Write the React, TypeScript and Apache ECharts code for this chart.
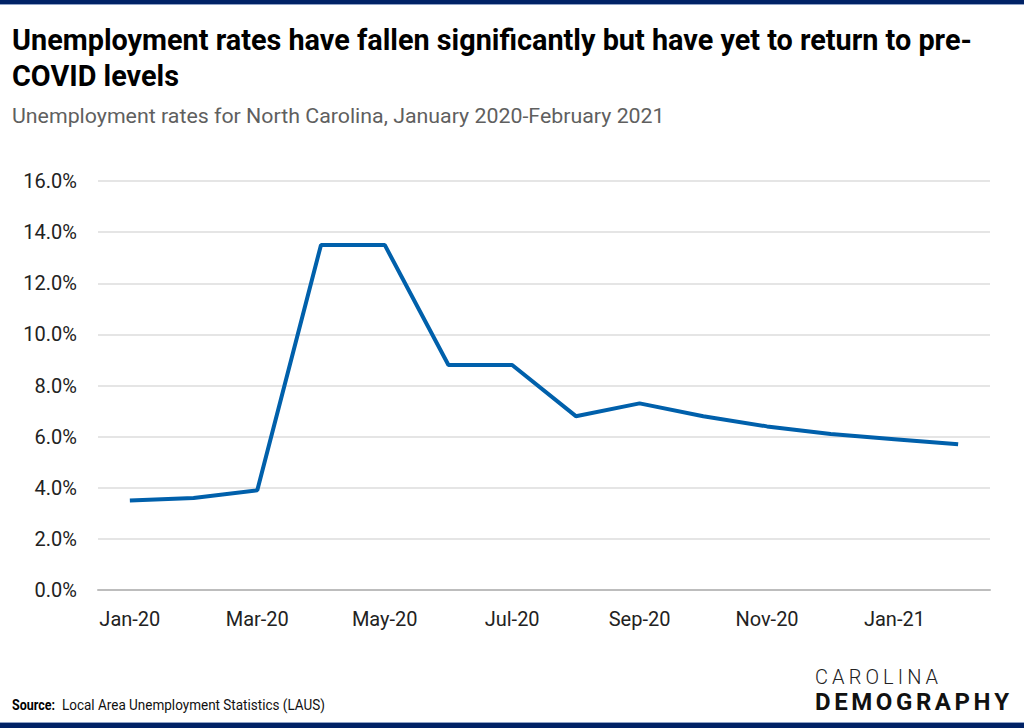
import React, { useEffect, useRef } from "react";
import * as echarts from "echarts";

const months = [
  "Jan-20", "Feb-20", "Mar-20", "Apr-20", "May-20", "Jun-20", "Jul-20",
  "Aug-20", "Sep-20", "Oct-20", "Nov-20", "Dec-20", "Jan-21", "Feb-21",
];
const rates = [3.5, 3.6, 3.9, 13.5, 13.5, 8.8, 8.8, 6.8, 7.3, 6.8, 6.4, 6.1, 5.9, 5.7];

const titleLines = [
  "Unemployment rates have fallen significantly but have yet to return to pre-",
  "COVID levels",
];
const subtitle = "Unemployment rates for North Carolina, January 2020-February 2021";
const sourceLabel = "Source:";
const sourceText = "Local Area Unemployment Statistics (LAUS)";
const logoTop = "CAROLINA";
const logoBottom = "DEMOGRAPHY";

const FONT = "Roboto";

function measure(text: string, font: string): number {
  const c = document.createElement("canvas");
  const ctx = c.getContext("2d");
  if (!ctx) return text.length * 10;
  ctx.font = font;
  return ctx.measureText(text).width;
}

function fittedText(
  text: string,
  x: number,
  y: number,
  scale: number,
  fontSize: number,
  fontWeight: string | number,
  color: string
) {
  return {
    type: "text",
    x,
    y,
    scaleX: scale,
    scaleY: 1,
    style: {
      text,
      fontSize,
      fontWeight,
      fontFamily: FONT,
      fill: color,
      verticalAlign: "middle",
      lineHeight: fontSize,
    },
  };
}

function scaleFor(text: string, targetWidth: number, fontSize: number, fontWeight: string | number) {
  const w = measure(text, `${fontWeight} ${fontSize}px ${FONT}`);
  return w > 0 ? targetWidth / w : 1;
}

function spacedLetters(
  text: string,
  x0: number,
  x1: number,
  y: number,
  fontSize: number,
  fontWeight: string | number,
  color: string
) {
  const font = `${fontWeight} ${fontSize}px ${FONT}`;
  const widths = text.split("").map((ch) => measure(ch, font));
  const total = widths.reduce((a, b) => a + b, 0);
  const gap = (x1 - x0 - total) / (text.length - 1);
  let x = x0;
  return text.split("").map((ch, i) => {
    const el = {
      type: "text",
      x,
      y,
      style: {
        text: ch,
        fontSize,
        fontWeight,
        fontFamily: FONT,
        fill: color,
        verticalAlign: "middle",
        lineHeight: fontSize * 0.8,
      },
    };
    x += widths[i] + gap;
    return el;
  });
}

export default function App() {
  const ref = useRef<HTMLDivElement>(null);
  useEffect(() => {
    if (!ref.current) return;
    const chart = echarts.init(ref.current, null, { renderer: "svg" });
    const titleScale = scaleFor(titleLines[0], 960, 30, "bold");
    const option = {
      animation: false,
      backgroundColor: "#ffffff",
      grid: { left: 98, right: 34, top: 181, bottom: 138, containLabel: false },
      xAxis: {
        type: "category",
        data: months,
        boundaryGap: true,
        axisLine: { lineStyle: { color: "#bdbdbd", width: 2 } },
        axisTick: { show: false },
        axisLabel: {
          interval: 1,
          fontSize: 20,
          color: "#222222",
          fontFamily: FONT,
          margin: 19,
        },
      },
      yAxis: {
        type: "value",
        min: 0,
        max: 16,
        interval: 2,
        axisLine: { show: false },
        axisTick: { show: false },
        splitLine: { lineStyle: { color: "#dddddd", width: 1.5 } },
        axisLabel: {
          fontSize: 20,
          color: "#222222",
          fontFamily: FONT,
          margin: 21,
          formatter: (v: number) => v.toFixed(1) + "%",
        },
      },
      series: [
        {
          type: "line",
          data: rates,
          symbol: "none",
          lineStyle: { color: "#0060ab", width: 4 },
          itemStyle: { color: "#0060ab" },
        },
      ],
      graphic: [
        { type: "rect", shape: { x: 0, y: 0, width: 1024, height: 4 }, style: { fill: "#002266" } },
        { type: "rect", shape: { x: 0, y: 4, width: 1024, height: 1 }, style: { fill: "#8fa2c6" } },
        { type: "rect", shape: { x: 0, y: 722, width: 1024, height: 1 }, style: { fill: "#8fa2c6" } },
        { type: "rect", shape: { x: 0, y: 723, width: 1024, height: 5 }, style: { fill: "#002266" } },
        fittedText(titleLines[0], 12, 40, titleScale, 30, "bold", "#000000"),
        fittedText(titleLines[1], 12, 76, titleScale, 30, "bold", "#000000"),
        fittedText(subtitle, 12, 116, scaleFor(subtitle, 653, 21, "normal"), 21, "normal", "#5f5f5f"),
        fittedText(sourceLabel, 12, 705, scaleFor(sourceLabel, 43, 14, "bold"), 14, "bold", "#000000"),
        fittedText(sourceText, 62, 705, scaleFor(sourceText, 263, 14, "normal"), 14, "normal", "#111111"),
        ...spacedLetters(logoTop, 815, 938, 677, 20, 300, "#222222"),
        ...spacedLetters(logoBottom, 815, 1009, 702, 24, "bold", "#111111"),
      ],
    };
    chart.setOption(option as any);
    return () => chart.dispose();
  }, []);
  return (
    <div
      ref={ref}
      style={{ position: "fixed", left: 0, top: 0, width: 1024, height: 728 }}
    />
  );
}
